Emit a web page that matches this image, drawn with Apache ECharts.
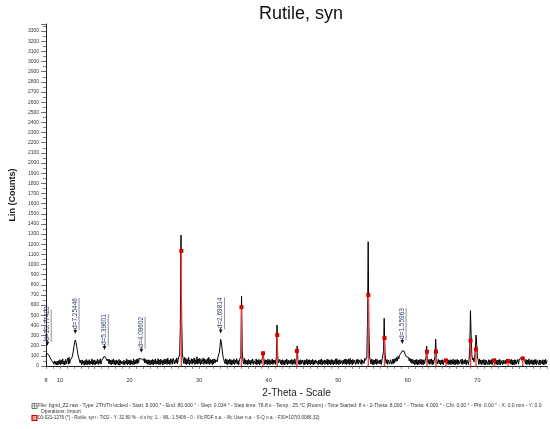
<!DOCTYPE html>
<html>
<head>
<meta charset="utf-8">
<script src="https://cdn.jsdelivr.net/npm/echarts@6/dist/echarts.min.js"></script>
<style>
html,body{margin:0;padding:0;background:#fff;}
#chart{width:550px;height:429px;}
</style>
</head>
<body>
<div id="chart"></div>
<script>
// ---- data ----
const startAngle = 8.0;   // 2-Theta of first count
const stepAngle = 0.1;    // 2-Theta step
// Lin (Counts), one row per degree (x.0 .. x.9)
const counts = [
95,125,140,128,110,92,80,62,55,40,        // 8
58,22,50,15,45,12,48,10,52,18,            // 9
62,12,55,20,70,15,48,10,65,22,            // 10
50,78,18,85,25,60,65,80,100,140,          // 11
185,230,256,235,195,150,110,80,62,30,     // 12
58,12,60,18,50,8,55,15,65,10,             // 13
52,18,62,12,48,20,70,10,55,15,            // 14
60,12,50,22,68,15,55,25,72,18,            // 15
52,65,78,90,98,85,75,62,50,70,            // 16
25,65,18,58,12,62,20,70,15,55,            // 17
10,60,18,52,12,65,8,55,20,48,             // 18
62,15,58,10,50,22,68,12,60,18,            // 19
55,10,62,18,48,12,70,15,58,20,            // 20
65,22,72,30,75,62,72,70,62,58,            // 21
55,75,30,68,25,60,18,62,15,55,            // 22
12,60,18,65,10,58,22,70,15,52,            // 23
20,72,15,60,12,68,25,55,10,62,            // 24
18,70,22,65,15,78,20,58,12,72,            // 25
25,68,18,75,90,20,62,30,80,22,            // 26
65,75,110,380,1290,430,120,70,25,85,      // 27
20,78,15,65,22,85,12,60,25,72,            // 28
18,68,28,80,15,62,22,90,18,70,            // 29
25,75,12,65,20,58,80,15,70,25,            // 30
62,18,72,22,85,15,65,25,60,12,            // 31
70,20,68,30,62,75,40,85,95,130,           // 32
190,262,230,170,110,75,60,25,72,18,       // 33
65,12,58,22,70,15,62,10,55,20,            // 34
68,15,60,25,72,18,55,12,65,80,            // 35
90,690,150,60,20,75,15,62,18,58,          // 36
12,65,20,55,10,60,25,70,15,52,            // 37
62,18,70,12,58,22,65,10,60,25,            // 38
55,80,141,70,15,62,20,58,12,68,           // 39
18,62,12,55,20,70,15,58,25,60,            // 40
15,90,404,100,30,15,65,20,58,12,          // 41
62,15,55,10,60,22,68,12,58,20,            // 42
10,58,18,65,12,60,22,70,15,55,            // 43
80,197,65,18,55,12,62,20,58,70,           // 44
15,60,10,55,22,68,12,58,18,62,            // 45
12,58,20,65,10,55,18,60,25,52,            // 46
65,12,58,20,62,15,70,10,55,22,            // 47
60,15,55,22,68,10,62,18,58,12,            // 48
65,18,60,12,55,20,70,15,72,18,            // 49
58,12,62,20,55,70,15,60,22,65,            // 50
18,70,15,62,20,68,12,75,22,58,            // 51
12,65,20,58,72,15,62,22,68,18,            // 52
60,72,20,65,15,58,70,25,75,55,            // 53
65,90,420,1225,380,95,60,20,68,15,        // 54
62,12,58,20,70,15,65,22,10,58,            // 55
20,62,15,68,75,140,470,160,60,25,         // 56
65,15,58,70,20,62,75,18,65,22,            // 57
70,30,75,45,85,50,95,70,105,90,           // 58
125,110,150,158,135,145,115,120,90,105,   // 59
75,85,50,78,35,68,25,65,20,58,            // 60
12,60,18,65,10,58,15,62,20,68,            // 61
15,60,12,62,20,58,80,197,90,25,           // 62
62,15,68,22,70,12,60,18,55,95,            // 63
265,95,20,15,65,22,58,12,60,18,           // 64
62,12,58,70,72,62,20,58,15,60,            // 65
18,62,12,58,20,68,15,60,10,62,            // 66
20,65,12,58,22,10,62,18,70,15,            // 67
12,60,20,65,10,58,70,15,62,180,           // 68
545,300,110,60,80,40,85,160,305,210,      // 69
90,62,15,70,20,60,12,58,18,65,            // 70
12,60,10,55,68,15,62,12,58,20,            // 71
65,12,58,70,75,18,62,15,58,12,            // 72
60,15,65,10,55,62,12,58,20,10,            // 73
58,18,65,70,75,22,12,60,18,65,            // 74
10,58,15,62,12,60,22,10,65,18,            // 75
58,70,78,85,95,80,92,70,55,20,            // 76
65,12,58,18,70,10,55,20,62,15,            // 77
58,10,62,18,65,12,55,70,15,60,            // 78
12,58,72,18,62,12,60,15,65,22,            // 79
55                                        // 80
];

// Rutile, syn reference pattern (00-021-1276) sticks
const stickPos = [27.45, 36.09, 39.19, 41.23, 44.05, 54.32, 56.64, 62.74, 64.04, 65.48, 69.01, 69.79, 72.41, 74.41, 76.51];
const stickInt = [1135, 580, 125, 305, 148, 700, 276, 141, 141, 55, 250, 164, 56, 50, 75];

// d-spacing annotations on broad peaks
const peakPos    = [8.2, 12.2, 16.4, 21.7, 33.1, 59.2];
const peakCounts = [140, 256, 98, 72, 262, 158];
const peakLabels = ['d=10.77428', 'd=7.25446', 'd=5.39601', 'd=4.08602', 'd=2.69814', 'd=1.55963'];

const yTicks = { min: 0, max: 3370, step: 100 };
const xTicks = { min: 8, max: 80, labels: [8, 10, 20, 30, 40, 50, 60, 70] };

const titleText = 'Rutile, syn';
const legendLine1 = 'File: bgnd_Z2.raw - Type: 2Th/Th locked - Start: 8.000 \u00b0 - End: 80.000 \u00b0 - Step: 0.034 \u00b0 - Step time: 76.8 s - Temp.: 25 \u00b0C (Room) - Time Started: 8 s - 2-Theta: 8.000 \u00b0 - Theta: 4.000 \u00b0 - Chi: 0.00 \u00b0 - Phi: 0.00 \u00b0 - X: 0.0 mm - Y: 0.0';
const legendLine2 = 'Operations: Import';
const legendLine3 = '00-021-1276 (*) - Rutile, syn - TiO2 - Y: 32.80 % - d x by: 1. - WL: 1.5406 - 0 - I/Ic PDF n.a. - I/Ic User n.a. - S-Q n.a. - F30=107(0.0086,32)';

// ---- chart ----
const FONT = 'Liberation Sans, Arial, Helvetica, sans-serif';
const lineData = counts.map((c, i) => [+(startAngle + i * stepAngle).toFixed(2), c]);
const stickData = stickPos.map((x, i) => [x, stickInt[i]]);
const annData = peakPos.map((x, i) => [x, peakCounts[i], i]);

const chart = echarts.init(document.getElementById('chart'), null, { renderer: 'canvas' });

const option = {
  animation: false,
  backgroundColor: '#fff',
  textStyle: { fontFamily: FONT },
  title: {
    text: titleText,
    left: 296,
    textAlign: 'center',
    top: 0,
    textStyle: { fontSize: 18, fontWeight: 'normal', color: '#111', fontFamily: FONT }
  },
  grid: { left: 32.4, right: 1.4, top: 24, bottom: 63, containLabel: false },
  xAxis: {
    type: 'value',
    min: xTicks.min,
    max: xTicks.max,
    interval: 1,
    name: '2-Theta - Scale',
    nameLocation: 'middle',
    nameGap: 20,
    nameTextStyle: { fontSize: 10, color: '#222', fontFamily: FONT },
    axisLine: { show: true, onZero: false, lineStyle: { color: '#222', width: 1 } },
    axisTick: { show: true, length: 3, lineStyle: { color: '#444', width: 0.6 } },
    splitLine: { show: false },
    axisLabel: {
      interval: 0,
      margin: 11,
      fontSize: 5.5,
      color: '#333',
      fontFamily: FONT,
      formatter: v => (xTicks.labels.indexOf(Math.round(v)) >= 0 && Math.abs(v - Math.round(v)) < 1e-6) ? String(Math.round(v)) : ''
    }
  },
  yAxis: {
    type: 'value',
    min: yTicks.min,
    max: yTicks.max,
    interval: yTicks.step,
    name: 'Lin (Counts)',
    nameLocation: 'middle',
    nameGap: 21,
    nameTextStyle: { fontSize: 9, fontWeight: 'bold', color: '#222', fontFamily: FONT },
    axisLine: { show: true, lineStyle: { color: '#222', width: 1 } },
    axisTick: { show: true, length: 5, lineStyle: { color: '#333', width: 0.7 } },
    minorTick: { show: true, splitNumber: 2, length: 3, lineStyle: { color: '#333', width: 0.6 } },
    splitLine: { show: false },
    axisLabel: {
      margin: 7,
      fontSize: 5,
      color: '#333',
      fontFamily: FONT,
      formatter: v => (v % 100 === 0 ? String(v) : '')
    }
  },
  series: [
    {
      type: 'line',
      data: lineData,
      showSymbol: false,
      symbol: 'none',
      sampling: 'none',
      lineStyle: { color: '#000', width: 1 },
      z: 2,
      silent: true
    },
    {
      type: 'custom',
      data: stickData,
      z: 3,
      silent: true,
      renderItem: function (params, api) {
        const top = api.coord([api.value(0), api.value(1)]);
        const base = api.coord([api.value(0), 0]);
        return {
          type: 'group',
          children: [
            { type: 'line', shape: { x1: base[0], y1: base[1], x2: top[0], y2: top[1] },
              style: { stroke: '#ff3c3c', lineWidth: 1.4 } },
            { type: 'rect', shape: { x: top[0] - 2, y: top[1] - 2, width: 4, height: 4 },
              style: { fill: '#d40000', stroke: null } }
          ]
        };
      }
    },
    {
      type: 'custom',
      data: annData,
      z: 4,
      silent: true,
      renderItem: function (params, api) {
        const p = api.coord([api.value(0), api.value(1)]);
        const idx = api.value(2);
        const tip = p[1] - 6;
        const headH = 4;
        const textStart = tip - headH - 1;
        return {
          type: 'group',
          children: [
            { type: 'polygon', shape: { points: [[p[0] - 1.8, tip - headH], [p[0] + 1.8, tip - headH], [p[0], tip]] },
              style: { fill: '#111' } },
            { type: 'line', shape: { x1: p[0], y1: tip - headH, x2: p[0], y2: tip - headH - 2 },
              style: { stroke: '#111', lineWidth: 0.8 } },
            { type: 'line', shape: { x1: p[0] + 3.8, y1: textStart + 1, x2: p[0] + 3.8, y2: textStart - 31 },
              style: { stroke: '#445', lineWidth: 0.6 } },
            { type: 'text', x: p[0], y: textStart, rotation: Math.PI / 2,
              style: { text: peakLabels[idx], fontSize: 6.5, fontFamily: FONT, fill: '#2d3c6b',
                       align: 'left', verticalAlign: 'middle' } }
          ]
        };
      }
    }
  ],
  graphic: [
    { type: 'rect', shape: { x: 32, y: 403.5, width: 5, height: 5 }, style: { fill: '#fff', stroke: '#555', lineWidth: 0.8 } },
    { type: 'line', shape: { x1: 34.5, y1: 403.5, x2: 34.5, y2: 408.5 }, style: { stroke: '#555', lineWidth: 0.6 } },
    { type: 'line', shape: { x1: 32, y1: 406, x2: 37, y2: 406 }, style: { stroke: '#555', lineWidth: 0.6 } },
    { type: 'text', x: 38, y: 406, style: { text: legendLine1, fontSize: 5, fontFamily: FONT, fill: '#333', verticalAlign: 'middle' } },
    { type: 'text', x: 41, y: 412, style: { text: legendLine2, fontSize: 4.8, fontFamily: FONT, fill: '#333', verticalAlign: 'middle' } },
    { type: 'rect', shape: { x: 32, y: 415.5, width: 5, height: 5 }, style: { fill: '#ff9a9a', stroke: '#e00000', lineWidth: 1.2 } },
    { type: 'text', x: 38, y: 418, style: { text: legendLine3, fontSize: 4.6, fontFamily: FONT, fill: '#333', verticalAlign: 'middle' } }
  ]
};

chart.setOption(option);
</script>
</body>
</html>
